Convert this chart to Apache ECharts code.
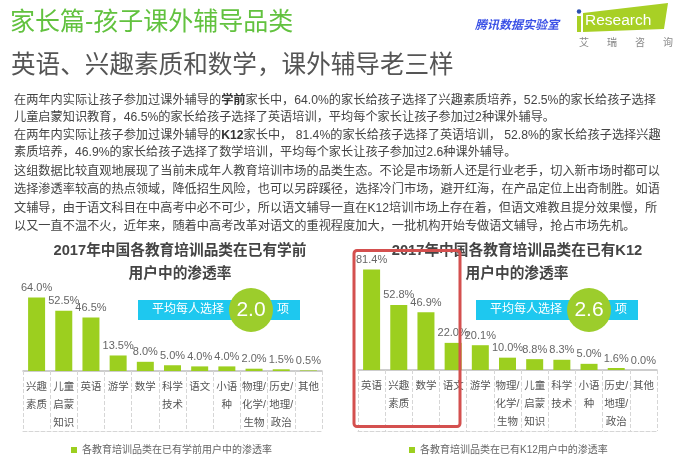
<!DOCTYPE html>
<html>
<head>
<meta charset="utf-8">
<script src="https://cdn.jsdelivr.net/npm/echarts@6/dist/echarts.min.js"></script>
<style>
html,body{margin:0;padding:0;background:#fff;}
#main{width:692px;height:461px;}
</style>
</head>
<body>
<div id="main"></div>
<script>
// 学前用户
var cats_pre = ['兴趣\n素质', '儿童\n启蒙\n知识', '英语', '游学', '数学', '科学\n技术', '语文', '小语\n种', '物理/\n化学/\n生物', '历史/\n地理/\n政治', '其他'];
var vals_pre = [64.0, 52.5, 46.5, 13.5, 8.0, 5.0, 4.0, 4.0, 2.0, 1.5, 0.5];
// K12用户
var cats_k12 = ['英语', '兴趣\n素质', '数学', '语文', '游学', '物理/\n化学/\n生物', '儿童\n启蒙\n知识', '科学\n技术', '小语\n种', '历史/\n地理/\n政治', '其他'];
var vals_k12 = [81.4, 52.8, 46.9, 22.0, 20.1, 10.0, 8.8, 8.3, 5.0, 1.6, 0.0];
// 平均每人选择项数
var avg_pick = [2.0, 2.6];
var series_names = ['各教育培训品类在已有学前用户中的渗透率', '各教育培训品类在已有K12用户中的渗透率'];
var chart_titles = [
    ['2017年中国各教育培训品类在已有学前', '用户中的渗透率'],
    ['2017年中国各教育培训品类在已有K12', '用户中的渗透率']
];
var page_title = '家长篇-孩子课外辅导品类';
var page_subtitle = '英语、兴趣素质和数学，课外辅导老三样';
var para_lines = [
    '在两年内实际让孩子参加过课外辅导的{b|学前}家长中，64.0%的家长给孩子选择了兴趣素质培养，52.5%的家长给孩子选择',
    '儿童启蒙知识教育，46.5%的家长给孩子选择了英语培训，平均每个家长让孩子参加过2种课外辅导。',
    '在两年内实际让孩子参加过课外辅导的{b|K12}家长中， 81.4%的家长给孩子选择了英语培训， 52.8%的家长给孩子选择兴趣',
    '素质培养，46.9%的家长给孩子选择了数学培训，平均每个家长让孩子参加过2.6种课外辅导。',
    '这组数据比较直观地展现了当前未成年人教育培训市场的品类生态。不论是市场新人还是行业老手，切入新市场时都可以',
    '选择渗透率较高的热点领域，降低招生风险，也可以另辟蹊径，选择冷门市场，避开红海，在产品定位上出奇制胜。如语',
    '文辅导，由于语文科目在中高考中必不可少，所以语文辅导一直在K12培训市场上存在着，但语文难教且提分效果慢，所',
    '以又一直不温不火，近年来，随着中高考改革对语文的重视程度加大，一批机构开始专做语文辅导，抢占市场先机。'
];

var FONT = "'Liberation Sans','Noto Sans CJK SC',sans-serif";
var bar_color = '#9ccf1f';
var para_y = [101, 118, 136, 153, 172, 190, 209, 227];
var offsets = [0, 338];

var chart = echarts.init(document.getElementById('main'), null, {renderer: 'canvas'});

function cat_axis(grid_idx, cats, tick_len) {
    return {
        type: 'category',
        gridIndex: grid_idx,
        data: cats,
        axisLine: {lineStyle: {color: '#bdbdbd', width: 1.5}},
        axisTick: {show: true, length: tick_len, lineStyle: {color: '#d6d6d6', type: 'dashed'}},
        axisLabel: {interval: 0, fontSize: 10.5, color: '#555', lineHeight: 18, margin: 7, fontFamily: FONT}
    };
}
function border_axis(grid_idx, cats, off) {
    // 表格底边
    return {
        type: 'category',
        gridIndex: grid_idx,
        data: cats,
        position: 'bottom',
        offset: off,
        axisLine: {lineStyle: {color: '#d6d6d6', type: 'dashed'}},
        axisTick: {show: false},
        axisLabel: {show: false}
    };
}
function bar_series(name, idx, vals) {
    return {
        name: name,
        type: 'bar',
        xAxisIndex: idx * 2,
        yAxisIndex: idx,
        barWidth: 17,
        itemStyle: {color: bar_color},
        label: {
            show: true,
            position: 'top',
            distance: 4,
            fontSize: 11,
            color: '#666',
            fontFamily: FONT,
            formatter: function (p) { return p.value.toFixed(1) + '%'; }
        },
        data: vals
    };
}

var graphics = [];
// 标题
graphics.push({type: 'text', x: 10, y: 23, style: {text: page_title, fontSize: 25, fill: '#62c23f', fontFamily: FONT, verticalAlign: 'middle'}});
graphics.push({type: 'text', x: 11, y: 66, style: {text: page_subtitle, fontSize: 24.6, fill: '#555', fontFamily: FONT, verticalAlign: 'middle'}});
// logo
graphics.push({type: 'text', x: 475, y: 26, style: {text: '腾讯数据实验室', fontSize: 12, fontWeight: 'bold', fontStyle: 'italic', fill: '#3a50e6', fontFamily: FONT, verticalAlign: 'middle'}});
graphics.push({type: 'polygon', shape: {points: [[583, 13], [668, 3], [664, 29], [583, 32]]}, style: {fill: '#a8d025'}});
graphics.push({type: 'rect', shape: {x: 577, y: 16, width: 4, height: 16}, style: {fill: '#a8d025'}});
graphics.push({type: 'circle', shape: {cx: 579, cy: 11.5, r: 2.2}, style: {fill: '#2a4fb0'}});
graphics.push({type: 'text', x: 585, y: 21, style: {text: 'Research', fontSize: 15.5, fill: '#fff', fontFamily: FONT, verticalAlign: 'middle'}});
['艾', '瑞', '咨', '询'].forEach(function (ch, i) {
    graphics.push({type: 'text', x: 584 + i * 28, y: 43, style: {text: ch, fontSize: 10, fill: '#888', fontFamily: FONT, align: 'center', verticalAlign: 'middle'}});
});
// 正文
para_lines.forEach(function (line, i) {
    graphics.push({
        type: 'text', x: 14, y: para_y[i],
        style: {
            text: line, fontSize: 12.2, fill: '#444', fontFamily: FONT, verticalAlign: 'middle',
            rich: {b: {fontSize: 12.2, fill: '#333', fontWeight: 'bold', fontFamily: FONT}}
        }
    });
});
// 图表标题 + 平均每人选择
var title_x = [180, 517];
chart_titles.forEach(function (t, i) {
    graphics.push({type: 'text', x: title_x[i], y: 251, style: {text: t[0], fontSize: 14.7, fontWeight: 'bold', fill: '#444', fontFamily: FONT, align: 'center', verticalAlign: 'middle'}});
    graphics.push({type: 'text', x: title_x[i], y: 274, style: {text: t[1], fontSize: 14.7, fontWeight: 'bold', fill: '#444', fontFamily: FONT, align: 'center', verticalAlign: 'middle'}});
    var dx = offsets[i];
    graphics.push({type: 'rect', shape: {x: 138 + dx, y: 300, width: 162, height: 20}, style: {fill: '#1ec8ef'}});
    graphics.push({type: 'text', x: 152 + dx, y: 310, style: {text: '平均每人选择', fontSize: 12, fill: '#fff', fontFamily: FONT, verticalAlign: 'middle'}});
    graphics.push({type: 'circle', shape: {cx: 251 + dx, cy: 310, r: 22}, style: {fill: '#9ccd2c'}});
    graphics.push({type: 'text', x: 251 + dx, y: 310, style: {text: avg_pick[i].toFixed(1), fontSize: 21, fill: '#fff', fontFamily: FONT, align: 'center', verticalAlign: 'middle'}});
    graphics.push({type: 'text', x: 277 + dx, y: 310, style: {text: '项', fontSize: 12, fill: '#fff', fontFamily: FONT, verticalAlign: 'middle'}});
});
// 红框
graphics.push({type: 'rect', z: 100, shape: {x: 354, y: 250.5, width: 106, height: 176, r: 3}, style: {fill: 'none', stroke: '#d4504f', lineWidth: 3}});

chart.setOption({
    animation: false,
    textStyle: {fontFamily: FONT},
    grid: [
        {left: 23, width: 299, top: 290.5, height: 80.5},
        {left: 358, width: 299, top: 259, height: 111}
    ],
    xAxis: [
        cat_axis(0, cats_pre, 60),
        border_axis(0, cats_pre, 60),
        cat_axis(1, cats_k12, 61),
        border_axis(1, cats_k12, 61)
    ],
    yAxis: [
        {type: 'value', gridIndex: 0, min: 0, max: 70, show: false},
        {type: 'value', gridIndex: 1, min: 0, max: 90, show: false}
    ],
    legend: [
        {data: [series_names[0]], left: 66, top: 440, icon: 'rect', itemWidth: 6, itemHeight: 6, itemGap: 4, textStyle: {fontSize: 10, color: '#666', fontFamily: FONT}},
        {data: [series_names[1]], left: 404, top: 440, icon: 'rect', itemWidth: 6, itemHeight: 6, itemGap: 4, textStyle: {fontSize: 10, color: '#666', fontFamily: FONT}}
    ],
    graphic: graphics,
    series: [
        bar_series(series_names[0], 0, vals_pre),
        bar_series(series_names[1], 1, vals_k12)
    ]
});
</script>
</body>
</html>
